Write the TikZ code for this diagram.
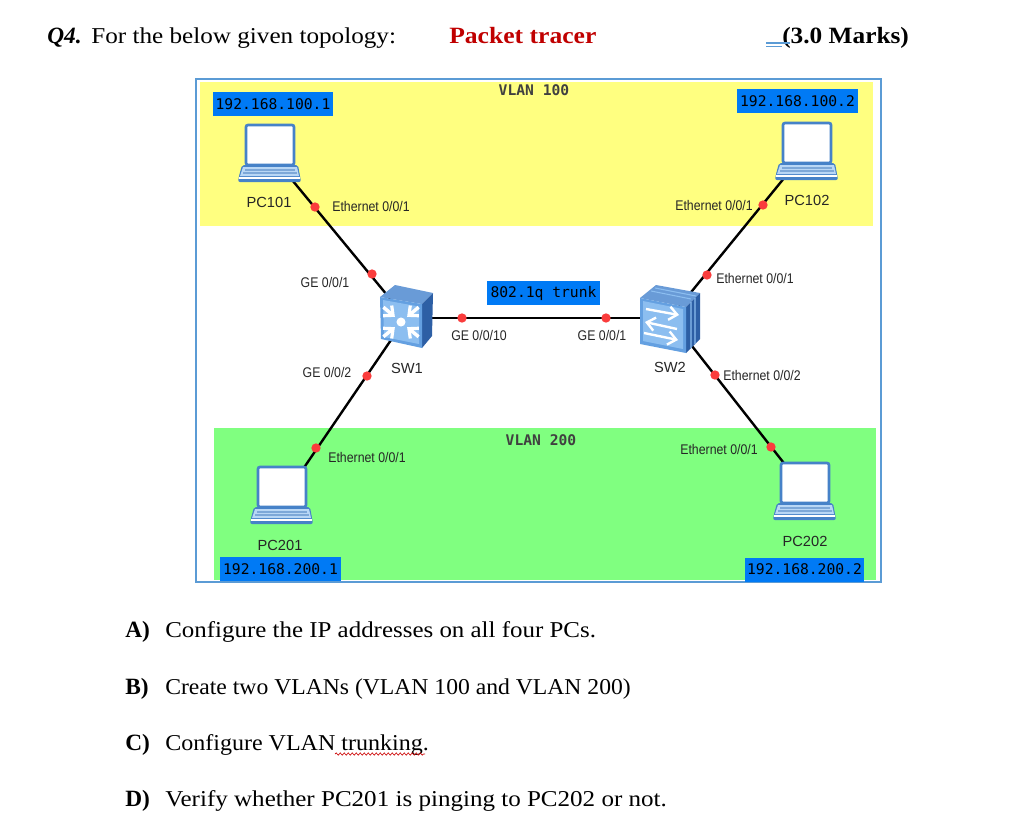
\documentclass[tikz,border=0pt]{standalone}
\usepackage{fontspec}
\setmainfont{Liberation Serif}
\setsansfont{Liberation Sans}
\setmonofont{DejaVu Sans Mono}
\usetikzlibrary{decorations.pathmorphing,arrows.meta,calc}
\definecolor{frameblue}{RGB}{91,155,213}
\definecolor{ipblue}{RGB}{0,122,245}
\definecolor{vyellow}{RGB}{255,255,128}
\definecolor{vgreen}{RGB}{128,255,128}
\definecolor{lapedge}{RGB}{70,130,200}
\definecolor{lapbase}{RGB}{185,215,245}
\definecolor{dotred}{RGB}{250,60,60}
\definecolor{swface}{RGB}{140,190,240}
\definecolor{swrim}{RGB}{100,160,225}
\definecolor{swtop}{RGB}{105,155,215}
\definecolor{swside}{RGB}{45,95,165}
\tikzset{
 x=0.75pt,y=-0.75pt,
 head/.style={inner sep=0,anchor=base west,font=\fontsize{17.5}{20}\selectfont\bfseries},
 item/.style={inner sep=0,anchor=base west,font=\fontsize{17}{20}\selectfont},
 iplabel/.style={fill=ipblue,inner sep=0,minimum height=18pt,font=\fontsize{11}{12}\ttfamily\selectfont,text=black},
 vlanlabel/.style={inner sep=0,font=\fontsize{11}{12}\ttfamily\bfseries\selectfont,text=black!75},
 port/.style={inner sep=0,font=\fontsize{10.5}{12}\sffamily\selectfont,text=black!85,xscale=0.88},
 devname/.style={inner sep=0,font=\fontsize{11}{12}\sffamily\selectfont,text=black!85},
 reddot/.style={circle,fill=dotred,inner sep=0,minimum size=7pt},
 link/.style={line width=1.8pt,black},
 laptopbox/.style={inner sep=0,minimum width=46.5pt,minimum height=43.5pt},
 swbox/.style={inner sep=0},
 pics/laptopicon/.style={code={
   \fill[lapedge,rounded corners=1.5pt] (-7,58) -- (-6,52) -- (-3,41) -- (53,41) -- (55,52) -- (56,58) -- cycle;
   \fill[lapbase] (-2,43) -- (52,43) -- (54,52) -- (-5,52) -- cycle;
   \fill[white] (-6,52.5) rectangle (55,55);
   \draw[lapedge!70,line width=.8pt] (0,46) -- (50,46) (-2,49) -- (52,49);
   \draw[lapedge,line width=2pt,fill=white,rounded corners=1.5pt] (1,1) rectangle (49,41);
 }},
 swarrow/.style={white,line width=2.6pt,-{Straight Barb[length=5.5pt,width=10pt,line width=2.4pt]}},
 swarrowb/.style={white,line width=1.8pt,-{Straight Barb[length=6pt,width=10pt,line width=1.8pt]}},
}
\begin{document}
\begin{tikzpicture}
\useasboundingbox (0,0) rectangle (1024,839);
\fill[white] (0,0) rectangle (1024,839);

% question heading
\node[head,font=\fontsize{17.5}{20}\selectfont\bfseries\itshape] (q4) at (47,43) {Q4.};
\node[item,xscale=1.11] (intro) at (91,43) {For the below given topology:};
\node[head,xscale=1.097,text={rgb,255:red,192;green,0;blue,0}] (pt) at (449,43) {Packet tracer};
\node[head,xscale=1.085] (marks) at (782,43) {(3.0 Marks)};
\coordinate (ua) at (766,43); \coordinate (ub) at (790,43);
\coordinate (uc) at (766,46.5); \coordinate (ud) at (782,46.5);
\draw[frameblue,line width=.8pt] (ua) -- (ub) (uc) -- (ud);

% VLAN zones
\fill[vyellow] (200,82) rectangle (873,226);
\fill[vgreen] (214,428) rectangle (876,580);
\draw[frameblue,line width=2.2pt] (196,79) rectangle (881,582);

% devices (placeholders used as connector ends)
\node[laptopbox] (pc101) at (269,152) {};
\node[laptopbox] (pc102) at (807,150) {};
\node[laptopbox] (pc201) at (286,494) {};
\node[laptopbox] (pc202) at (805,490) {};
\node[swbox,minimum width=38pt,minimum height=45pt] (sw1) at (406,318) {};
\node[swbox,minimum width=45pt,minimum height=51pt] (sw2) at (670,318) {};

% links (run to device centres, icons are drawn on top)
\draw[link] (pc101.center) -- (sw1.center);
\draw[link] (pc201.center) -- (sw1.center);
\draw[link] (sw1.center) -- (sw2.center);
\draw[link] (pc102.center) -- (sw2.center);
\draw[link] (pc202.center) -- (sw2.center);

% laptops
\pic at (245,124) {laptopicon};
\pic at (782,122) {laptopicon};
\pic at (257,466) {laptopicon};
\pic at (780,462) {laptopicon};

% SW1
\fill[swtop] (380,297) -- (395,285) -- (433,293) -- (422,304) -- cycle;
\fill[swside] (422,304) -- (433,293) -- (432,336) -- (422,348) -- cycle;
\fill[swrim] (380,297) -- (422,304) -- (422,348) -- (381,339) -- cycle;
\fill[swface] (383,300) -- (419,306.5) -- (419,344) -- (384,337) -- cycle;
\foreach \a in {40,140,220,320}
  \draw[swarrow] ($(401,322)+(\a:23)$) -- ($(401,322)+(\a:8)$);
\fill[white] (401,322) circle (3.4pt);

% SW2
\fill[swtop] (640,298) -- (656,285) -- (700,293) -- (686,307) -- cycle;
\fill[swside] (686,307) -- (700,293) -- (700,339) -- (686,353) -- cycle;
\fill[swrim] (640,298) -- (686,307) -- (686,353) -- (640,344) -- cycle;
\fill[swface] (643,301) -- (683,309) -- (683,349) -- (643,341) -- cycle;
\draw[swface,line width=.8pt] (691,302) -- (691,348) (695,298) -- (695,344)
      (651,291) -- (691,299) (655,288) -- (696,296);
\draw[swarrowb] (646,309) -- (679,315);
\draw[swarrowb] (677,329) -- (645,322);
\draw[swarrowb] (644,333) -- (678,340);

% port markers
\foreach \n/\x/\y in {d1/315/207,d2/372/274,d3/462/318,d4/606/318,d5/367/376,d6/316/448,
                      d7/707/275,d8/763/205,d9/715/375,d10/771/447}
  \node[reddot] (\n) at (\x,\y) {};

% address labels
\node[iplabel,minimum width=90pt] (ip1) at (273,104) {192.168.100.1};
\node[iplabel,minimum width=90.5pt] (ip2) at (797.5,101) {192.168.100.2};
\node[iplabel,minimum width=90.5pt] (ip3) at (280.5,569) {192.168.200.1};
\node[iplabel,minimum width=89pt] (ip4) at (804.5,569.5) {192.168.200.2};
\node[iplabel,minimum width=85pt] (trunk) at (543.5,293) {802.1q trunk};

\node[vlanlabel] (v100) at (534,90) {VLAN 100};
\node[vlanlabel] (v200) at (541,440) {VLAN 200};

% device names
\node[devname] (n1) at (269,202) {PC101};
\node[devname] (n2) at (807,200) {PC102};
\node[devname] (n3) at (280,545) {PC201};
\node[devname] (n4) at (805,541) {PC202};
\node[devname] (n5) at (407,368) {SW1};
\node[devname] (n6) at (670,367) {SW2};

% port names
\node[port] (p1) at (371,206) {Ethernet 0/0/1};
\node[port] (p2) at (325,282) {GE 0/0/1};
\node[port] (p3) at (479,335) {GE 0/0/10};
\node[port] (p4) at (602,335) {GE 0/0/1};
\node[port] (p5) at (327,372) {GE 0/0/2};
\node[port] (p6) at (367,457) {Ethernet 0/0/1};
\node[port] (p7) at (714,205) {Ethernet 0/0/1};
\node[port] (p8) at (755,278) {Ethernet 0/0/1};
\node[port] (p9) at (762,375) {Ethernet 0/0/2};
\node[port] (p10) at (719,449) {Ethernet 0/0/1};

% task list
\node[head] (la) at (125,637) {A)};
\node[item,xscale=1.10] (ta) at (165,637) {Configure the IP addresses on all four PCs.};
\node[head] (lb) at (125,694) {B)};
\node[item,xscale=1.043] (tb) at (165,694) {Create two VLANs (VLAN 100 and VLAN 200)};
\node[head] (lc) at (125,750) {C)};
\node[item,xscale=1.06] (tc) at (165,750) {Configure VLAN trunking.};
\node[head] (ld) at (125,806) {D)};
\node[item,xscale=1.105] (td) at (165,806) {Verify whether PC201 is pinging to PC202 or not.};
\coordinate (wa) at (335,754); \coordinate (wb) at (425,754);
\draw[red!80!black,line width=.5pt,decorate,decoration={snake,amplitude=.8pt,segment length=3pt}] (wa) -- (wb);
\end{tikzpicture}
\end{document}
